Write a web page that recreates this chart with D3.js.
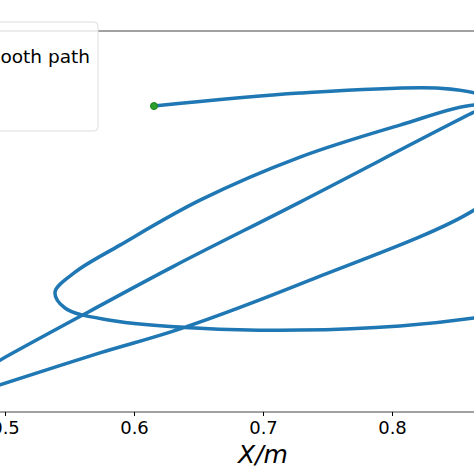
<!DOCTYPE html>
<html><head><meta charset="utf-8">
<script src="https://cdn.jsdelivr.net/npm/d3@7"></script>
<style>body{margin:0;background:#fff}</style>
</head><body>
<script>
// path samples (X in m, Y in relative axis units)
const pathX = [0.6155,0.7287,0.8372,0.8682,0.876,0.8636,0.7287,0.631,0.5643,0.4961,0.4806,0.4767,0.4884,0.4961,0.5736,0.6357,0.7364,0.8636,0.8992,0.8915,0.8636,0.8062,0.7287,0.6512,0.5891,0.5543,0.5388,0.5465,0.5814,0.6512,0.7287,0.8062,0.8636,0.8992];
const pathY = [0.803,0.837,0.850,0.832,0.806,0.787,0.551,0.383,0.262,0.136,0.105,0.084,0.063,0.071,0.155,0.218,0.346,0.530,0.635,0.793,0.806,0.753,0.669,0.556,0.438,0.367,0.315,0.273,0.241,0.220,0.215,0.226,0.247,0.268];
const startPt = [0.6155, 0.803];
const xTicks = [0.5, 0.6, 0.7, 0.8];

const W = 474, H = 474;
const svg = d3.select("body").append("svg").attr("width", W).attr("height", H);
const x = d3.scaleLinear().domain([0.5, 0.8]).range([5, 392]);
const y = d3.scaleLinear().domain([0, 1]).range([412, 31]);

svg.append("clipPath").attr("id", "clip").append("rect")
    .attr("x", 0).attr("y", 31).attr("width", W).attr("height", 381);

svg.append("line").attr("x1", 0).attr("x2", W).attr("y1", 31).attr("y2", 31)
    .attr("stroke", "#444").attr("stroke-width", 1);

const xAxis = svg.append("g").attr("transform", "translate(0,412)")
    .call(d3.axisBottom(x).tickValues(xTicks).tickFormat(d3.format(".1f")).tickSize(4).tickPadding(5));
xAxis.select(".domain").attr("d", `M0,0H${W}`).attr("stroke", "#444");
xAxis.selectAll("text").attr("font-size", 18).attr("font-family", "DejaVu Sans").attr("fill", "#000");

svg.append("text").attr("x", 263).attr("y", 463).attr("text-anchor", "middle")
    .attr("font-size", 25).attr("font-style", "italic").attr("font-family", "DejaVu Sans").text("X/m");

const pts = pathX.map((d, i) => [x(d), y(pathY[i])]);
svg.append("path").attr("clip-path", "url(#clip)")
    .attr("d", d3.line().curve(d3.curveCatmullRom.alpha(0.5))(pts))
    .attr("fill", "none").attr("stroke", "#1f77b4").attr("stroke-width", 3.5);

svg.append("circle").attr("cx", x(startPt[0])).attr("cy", y(startPt[1])).attr("r", 3.5)
    .attr("fill", "#2ca02c").attr("stroke", "#1a801a");

// legend (cropped on the left)
svg.append("rect").attr("x", -10).attr("y", 22).attr("width", 108).attr("height", 109).attr("rx", 4)
    .attr("fill", "#fff").attr("fill-opacity", 0.8).attr("stroke", "#ddd");
svg.append("text").attr("x", 90).attr("y", 63).attr("text-anchor", "end")
    .attr("font-size", 18.5).attr("font-family", "DejaVu Sans").text("Smooth path");
</script>
</body></html>
